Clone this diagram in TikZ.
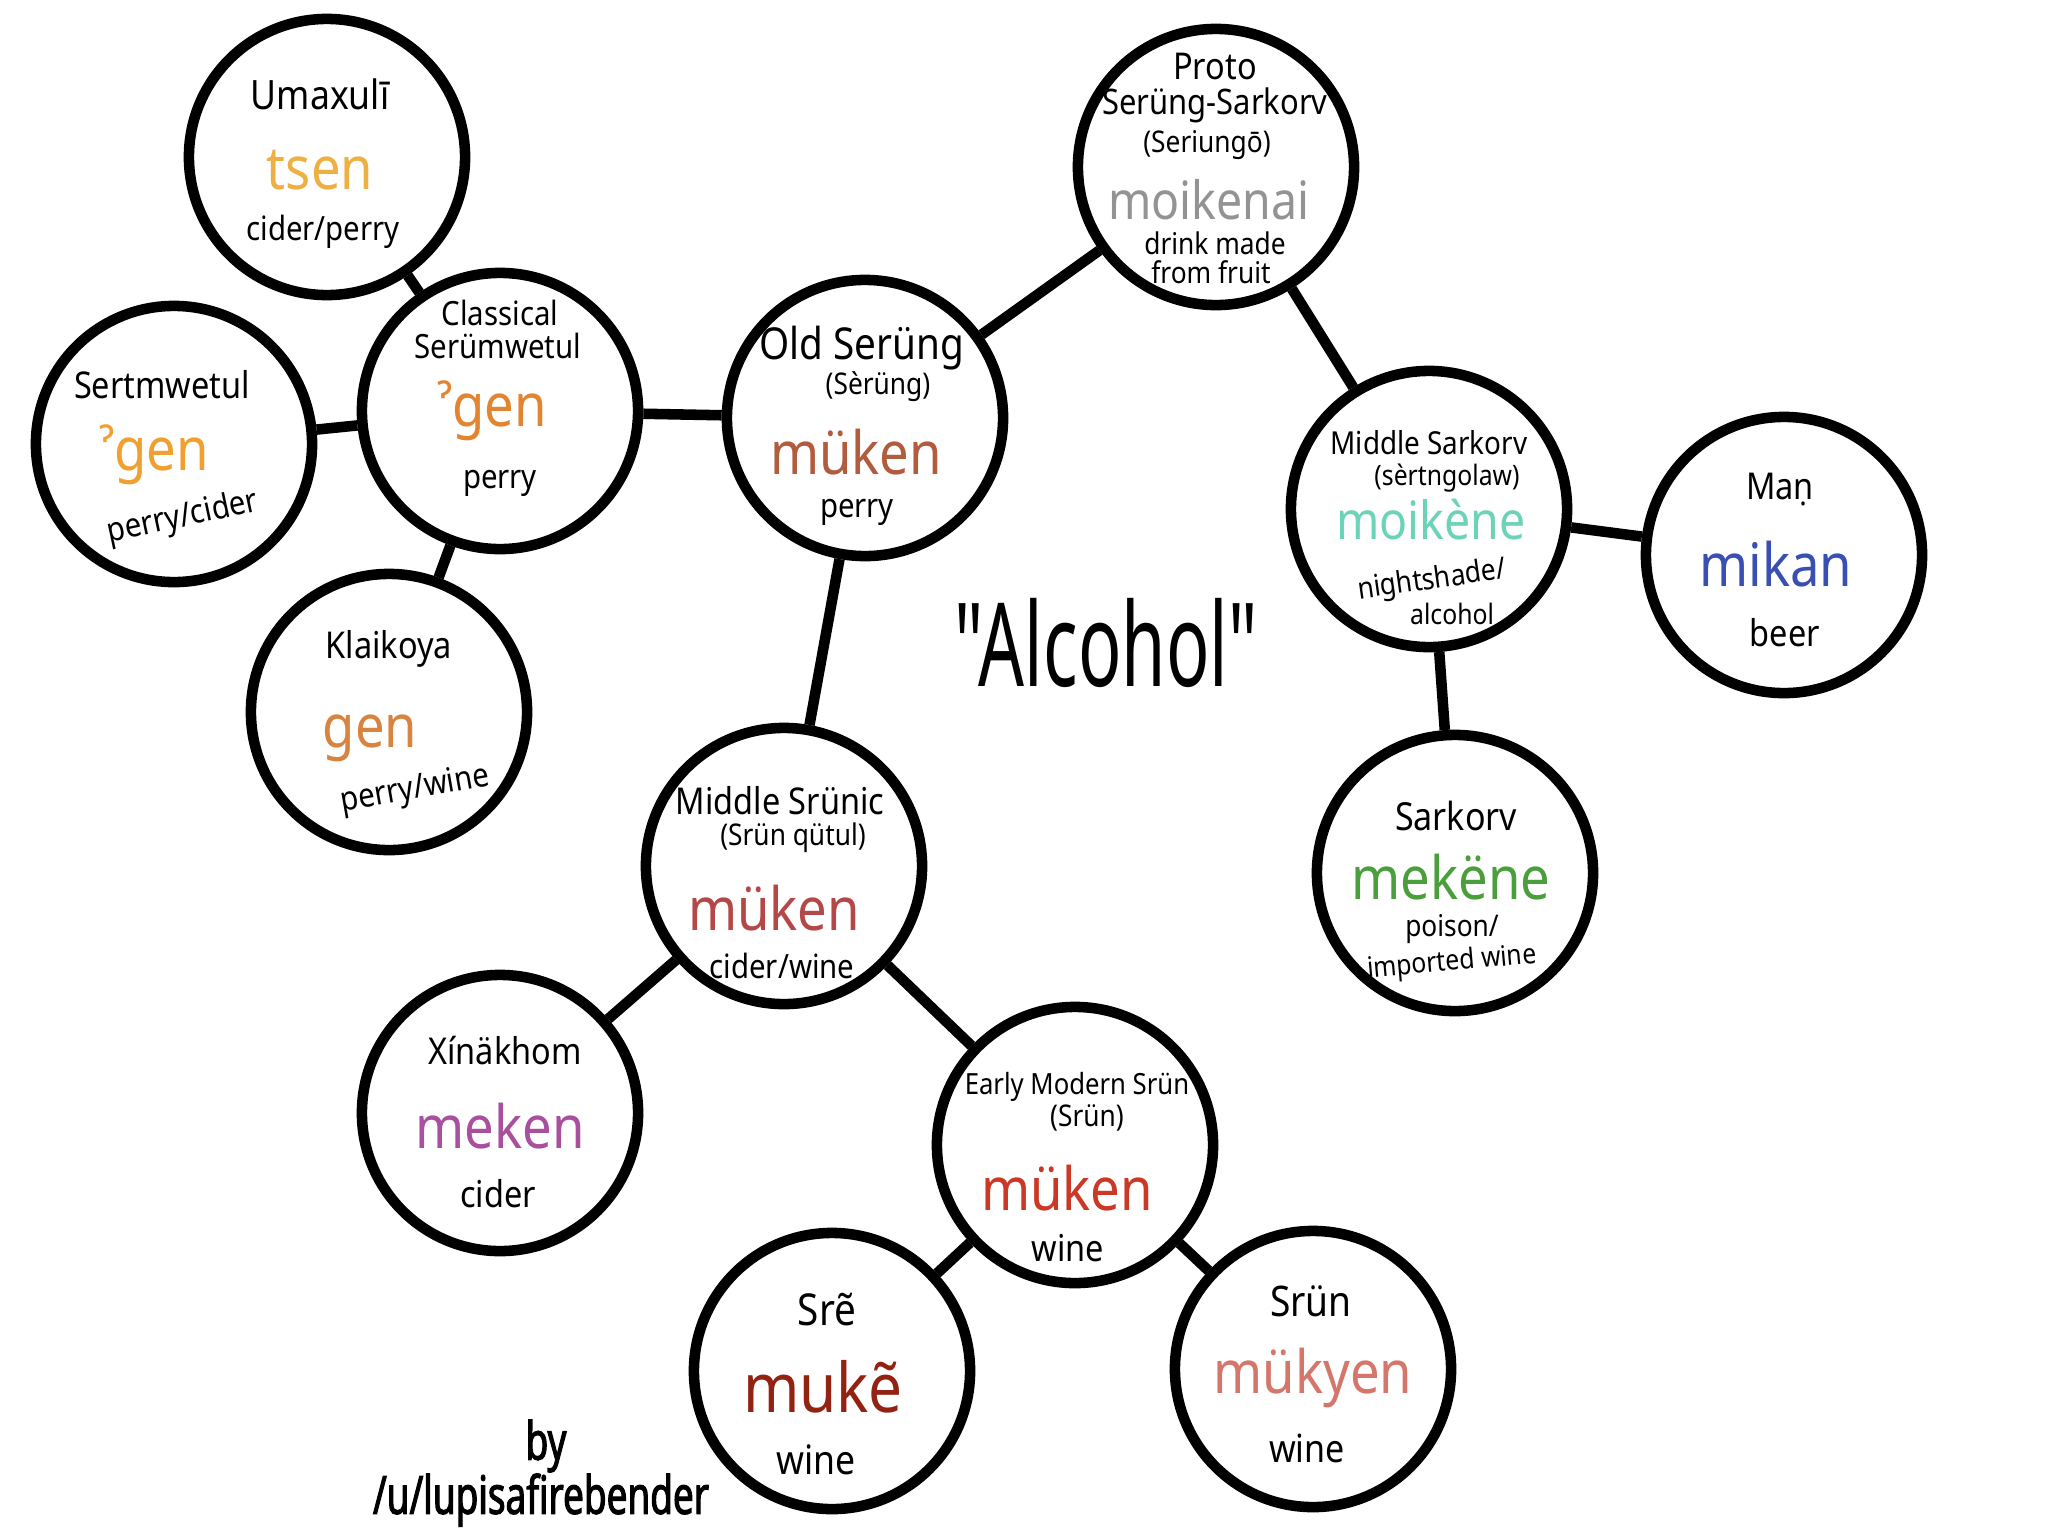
\documentclass[tikz,border=0pt]{standalone}
\usepackage{fontspec}
\setmainfont[FakeStretch=0.88]{Noto Sans}
\newfontfamily\narrowfont[FakeStretch=0.62]{Noto Sans}
\newfontfamily\authorfont[FakeStretch=0.7,FakeBold=2]{Noto Sans}
\definecolor{cTsen}{HTML}{EEB042}
\definecolor{cSert}{HTML}{F0A030}
\definecolor{cClass}{HTML}{E28430}
\definecolor{cKlai}{HTML}{D88440}
\definecolor{cOld}{HTML}{B25C3E}
\definecolor{cProto}{HTML}{939393}
\definecolor{cMidSar}{HTML}{6CD3B8}
\definecolor{cMan}{HTML}{3A4FB2}
\definecolor{cSark}{HTML}{4A9E3C}
\definecolor{cMidSr}{HTML}{B44848}
\definecolor{cXina}{HTML}{A8509E}
\definecolor{cEarly}{HTML}{CC3826}
\definecolor{cSre}{HTML}{922212}
\definecolor{cSrun}{HTML}{D4766A}
\begin{document}
\begin{tikzpicture}[x=0.01cm,y=-0.01cm,
	ring/.style={circle,draw,line width=3pt,minimum size=2.76cm,inner sep=0pt},
	link/.style={line width=3pt},
	lname/.style={font=\fontsize{10.5}{12}\selectfont,inner sep=0pt},
	lparen/.style={font=\fontsize{8.5}{10}\selectfont,inner sep=0pt},
	lword/.style={font=\fontsize{17}{19}\selectfont,inner sep=0pt},
	lgloss/.style={font=\fontsize{9.5}{11}\selectfont,inner sep=0pt}]
	\useasboundingbox (0,0) rectangle (2048,1536);
	
	%	vòng tròn
	\node[ring] (umax) at (327,157) {};
	\node[ring] (sert) at (174,444) {};
	\node[ring] (class) at (500,411) {};
	\node[ring] (klai) at (389,712) {};
	\node[ring] (old) at (865,418) {};
	\node[ring] (proto) at (1216,167) {};
	\node[ring] (midsar) at (1429,509) {};
	\node[ring] (man) at (1784,555) {};
	\node[ring] (sark) at (1455,873) {};
	\node[ring] (midsr) at (784,866) {};
	\node[ring] (xina) at (500,1113) {};
	\node[ring] (early) at (1075,1145) {};
	\node[ring] (sre) at (832,1371) {};
	\node[ring] (srun) at (1313,1369) {};
	
	%	nối
	\draw[link] (umax) -- (class);
	\draw[link] (sert) -- (class);
	\draw[link] (class) -- (klai);
	\draw[link] (class) -- (old);
	\draw[link] (old) -- (proto);
	\draw[link] (old) -- (midsr);
	\draw[link] (proto) -- (midsar);
	\draw[link] (midsar) -- (man);
	\draw[link] (midsar) -- (sark);
	\draw[link] (midsr) -- (xina);
	\draw[link] (midsr) -- (early);
	\draw[link] (early) -- (sre);
	\draw[link] (early) -- (srun);
	
	%	Umaxulī
	\node[lname,font=\fontsize{11.5}{13}\selectfont] (umaxN) at (320,94) {Umaxulī};
	\node[lword,text=cTsen] (umaxW) at (320,170) {tsen};
	\node[lgloss] (umaxG) at (323,232) {cider/perry};
	%	Sertmwetul
	\node[lname] (sertN) at (162,385) {Sertmwetul};
	\node[lword,text=cSert] (sertW) at (154,455) {ˀgen};
	\node[lgloss,rotate=12] (sertG) at (183,518) {perry/cider};
	%	Classical Serümwetul
	\node[lname,font=\fontsize{9.5}{11}\selectfont] (classN1) at (500,313) {Classical};
	\node[lname,font=\fontsize{9.5}{11}\selectfont] (classN2) at (498,346) {Serümwetul};
	\node[lword,text=cClass] (classW) at (492,411) {ˀgen};
	\node[lgloss] (classG) at (500,483) {perry};
	%	Klaikoya
	\node[lname] (klaiN) at (389,649) {Klaikoya};
	\node[lword,text=cKlai] (klaiW) at (370,738) {gen};
	\node[lgloss,rotate=10] (klaiG) at (415,790) {perry/wine};
	%	Old Serüng
	\node[lname,font=\fontsize{12.5}{14}\selectfont] (oldN) at (862,348) {Old Serüng};
	\node[lparen] (oldP) at (878,387) {(Sèrüng)};
	\node[lword,text=cOld] (oldW) at (856,452) {müken};
	\node[lgloss] (oldG) at (857,512) {perry};
	%	Proto Serüng-Sarkorv
	\node[lname] (protoN1) at (1215,66) {Proto};
	\node[lname,font=\fontsize{10}{12}\selectfont] (protoN2) at (1215,105) {Serüng-Sarkorv};
	\node[lparen] (protoP) at (1207,145) {(Seriungō)};
	\node[lword,text=cProto,font=\fontsize{15}{17}\selectfont] (protoW) at (1209,200) {moikenai};
	\node[lgloss,font=\fontsize{8.5}{10}\selectfont] (protoG1) at (1215,243) {drink made};
	\node[lgloss,font=\fontsize{8.5}{10}\selectfont] (protoG2) at (1211,272) {from fruit};
	%	Middle Sarkorv
	\node[lname,font=\fontsize{9}{10}\selectfont] (midsarN) at (1429,443) {Middle Sarkorv};
	\node[lparen,font=\fontsize{8}{9}\selectfont] (midsarP) at (1447,478) {(sèrtngolaw)};
	\node[lword,text=cMidSar,font=\fontsize{15}{17}\selectfont] (midsarW) at (1431,520) {moikène};
	\node[lgloss,font=\fontsize{8.5}{10}\selectfont,rotate=8] (midsarG1) at (1432,581) {nightshade/};
	\node[lgloss,font=\fontsize{8}{9}\selectfont] (midsarG2) at (1452,614) {alcohol};
	%	Maṇ
	\node[lname] (manN) at (1780,490) {Maṇ};
	\node[lword,text=cMan] (manW) at (1776,564) {mikan};
	\node[lgloss,font=\fontsize{10.5}{12}\selectfont] (manG) at (1785,633) {beer};
	%	Sarkorv
	\node[lname,font=\fontsize{11}{13}\selectfont] (sarkN) at (1456,816) {Sarkorv};
	\node[lword,text=cSark] (sarkW) at (1451,877) {mekëne};
	\node[lgloss,font=\fontsize{8.5}{10}\selectfont] (sarkG1) at (1452,929) {poison/};
	\node[lgloss,font=\fontsize{8}{9}\selectfont,rotate=5] (sarkG2) at (1452,963) {imported wine};
	%	Middle Srünic
	\node[lname] (midsrN) at (780,801) {Middle Srünic};
	\node[lparen] (midsrP) at (793,838) {(Srün qütul)};
	\node[lword,text=cMidSr] (midsrW) at (774,908) {müken};
	\node[lgloss] (midsrG) at (782,966) {cider/wine};
	%	Xínäkhom
	\node[lname] (xinaN) at (505,1051) {Xínäkhom};
	\node[lword,text=cXina] (xinaW) at (500,1126) {meken};
	\node[lgloss,font=\fontsize{10.5}{12}\selectfont] (xinaG) at (498,1194) {cider};
	%	Early Modern Srün
	\node[lname,font=\fontsize{8.3}{10}\selectfont] (earlyN) at (1077,1087) {Early Modern Srün};
	\node[lparen] (earlyP) at (1087,1118) {(Srün)};
	\node[lword,text=cEarly] (earlyW) at (1067,1188) {müken};
	\node[lgloss,font=\fontsize{10.5}{12}\selectfont] (earlyG) at (1068,1248) {wine};
	%	Srẽ
	\node[lname,font=\fontsize{12.5}{14}\selectfont] (sreN) at (827,1310) {Srẽ};
	\node[lword,text=cSre,font=\fontsize{19.5}{21}\selectfont] (sreW) at (823,1387) {mukẽ};
	\node[lgloss,font=\fontsize{11.5}{13}\selectfont] (sreG) at (816,1460) {wine};
	%	Srün
	\node[lname,font=\fontsize{12}{14}\selectfont] (srunN) at (1311,1301) {Srün};
	\node[lword,text=cSrun] (srunW) at (1313,1378) {mükyen};
	\node[lgloss,font=\fontsize{11}{13}\selectfont] (srunG) at (1307,1448) {wine};
	
	\node[font=\narrowfont\fontsize{33}{35}\selectfont] (alcohol) at (1106,643) {"Alcohol"};
	\node[inner sep=0pt,font=\authorfont\fontsize{15}{17}\selectfont] (by) at (546,1446) {by};
	\node[inner sep=0pt,font=\authorfont\fontsize{15}{17}\selectfont] (author) at (541,1500) {/u/lupisafirebender};
\end{tikzpicture}
\end{document}
